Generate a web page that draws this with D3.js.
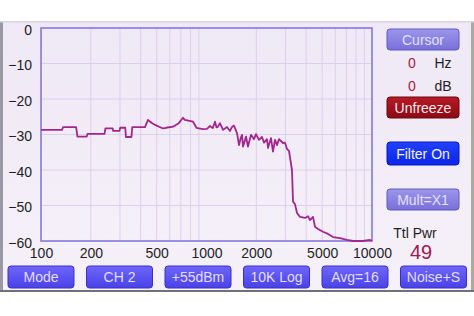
<!DOCTYPE html>
<html>
<head>
<meta charset="utf-8">
<script src="https://cdn.jsdelivr.net/npm/d3@7"></script>
<style>
  body { margin: 0; background: #fff; }
  svg { display: block; font-family: "Liberation Sans", Arial, sans-serif; }
</style>
</head>
<body>
<div id="chart"></div>
<script>
// spectrum trace (Hz, dB)
var freqs = [100, 134, 136, 163, 166, 189, 191, 242, 245, 271, 273, 298, 301, 323, 326, 352, 356, 425,
  443, 465, 489, 546, 570, 628, 680, 721, 740, 829, 870, 950, 1007, 1050, 1090, 1126, 1150, 1174,
  1206, 1258, 1330, 1387, 1430, 1466, 1529, 1572, 1610, 1639, 1662, 1733, 1781, 1857, 1936, 1991,
  2076, 2164, 2226, 2320, 2353, 2453, 2522, 2593, 2667, 2742, 2900, 2981, 3065, 3151, 3285, 3332,
  3425, 3523, 3673, 3937, 4105, 4221, 4401, 4525, 4718, 5057, 5423, 5813, 6409, 7063, 7678, 8823,
  9725, 10000];
var levels = [-28.7, -28.7, -27.9, -27.9, -30.6, -30.6, -29.8, -29.8, -28.3, -28.3, -29.0, -29.0,
  -28.1, -28.1, -30.7, -30.7, -27.9, -27.9, -25.9, -26.7, -27.3, -28.3, -28.1, -27.8, -26.8, -25.3,
  -25.9, -26.4, -28.1, -28.5, -28.4, -27.6, -28.2, -26.4, -28.0, -27.8, -26.8, -28.7, -27.9, -29.0,
  -27.8, -27.5, -29.6, -33.0, -31.0, -30.1, -33.4, -30.6, -33.4, -30.1, -31.3, -29.9, -31.5, -30.7,
  -32.3, -31.3, -33.8, -31.0, -34.8, -31.5, -33.0, -31.3, -32.4, -32.3, -34.1, -34.6, -40.0, -48.9,
  -49.6, -52.1, -53.2, -53.5, -53.0, -54.1, -53.2, -56.0, -56.6, -57.4, -58.0, -58.9, -59.2, -59.7,
  -60, -60, -59.7, -60];

var yTicks = [0, -10, -20, -30, -40, -50, -60];
var xTicks = [100, 200, 500, 1000, 2000, 5000, 10000];
var bottomButtons = ['Mode', 'CH 2', '+55dBm', '10K Log', 'Avg=16', 'Noise+S'];
var sideButtons = ['Cursor', 'Unfreeze', 'Filter On', 'Mult=X1'];
var cursorValues = ['0', '0'];
var cursorUnits = ['Hz', 'dB'];
var totalPower = '49';

var W = 474, H = 316;
var svg = d3.select('#chart').append('svg')
    .attr('width', W)
    .attr('height', H);

var defs = svg.append('defs');
function grad(id, c1, c2) {
    var g = defs.append('linearGradient').attr('id', id)
        .attr('x1', 0).attr('y1', 0).attr('x2', 0).attr('y2', 1);
    g.append('stop').attr('offset', '0%').attr('stop-color', c1);
    g.append('stop').attr('offset', '100%').attr('stop-color', c2);
}
grad('btnBlue', '#6e66fa', '#4a42e6');
grad('btnPale', '#9c96ec', '#7870d8');
grad('btnRed', '#b81a26', '#8a0a14');
grad('btnFilter', '#2240ff', '#0a26e8');
grad('screen', '#efe8f6', '#f6f1f8');

// screen of the device
svg.append('rect').attr('x', 0).attr('y', 22).attr('width', W).attr('height', 270)
    .attr('fill', 'url(#screen)');
svg.append('rect').attr('x', 0).attr('y', 22).attr('width', 3).attr('height', 270).attr('fill', '#9a98a4');
svg.append('rect').attr('x', 471).attr('y', 22).attr('width', 3).attr('height', 270).attr('fill', '#a8aca0');
svg.append('rect').attr('x', 0).attr('y', 290).attr('width', W).attr('height', 2).attr('fill', '#707078');
svg.append('rect').attr('x', 0).attr('y', 21).attr('width', W).attr('height', 1.5).attr('fill', '#d8d4e0');

var pLeft = 41, pRight = 372, pTop = 28, pBottom = 241;

var x = d3.scaleLog().domain([100, 10000]).range([pLeft, pRight]);
var y = d3.scaleLinear().domain([-60, 0]).range([pBottom, pTop]);

// grid
var gridX = [];
[100, 1000].forEach(function (dec) {
    for (var k = 2; k <= 9; k++) gridX.push(dec * k);
});
svg.append('g').selectAll('line').data(gridX).enter().append('line')
    .attr('x1', function (d) { return x(d); }).attr('x2', function (d) { return x(d); })
    .attr('y1', pTop).attr('y2', pBottom)
    .attr('stroke', '#dccfee').attr('stroke-width', 1);
svg.append('g').selectAll('line').data(yTicks.slice(1, -1)).enter().append('line')
    .attr('x1', pLeft).attr('x2', pRight)
    .attr('y1', function (d) { return y(d); }).attr('y2', function (d) { return y(d); })
    .attr('stroke', '#dccfee').attr('stroke-width', 1);

svg.append('rect').attr('x', pLeft).attr('y', pTop)
    .attr('width', pRight - pLeft).attr('height', pBottom - pTop)
    .attr('fill', 'none').attr('stroke', '#7d70e0').attr('stroke-width', 1.5);

// axes labels
var yAxis = d3.axisLeft(y).tickValues(yTicks).tickSize(0).tickPadding(9);
var ga = svg.append('g').attr('transform', 'translate(' + pLeft + ',2)').call(yAxis);
ga.select('.domain').remove();
ga.selectAll('text').attr('font-size', 14).attr('fill', '#1e1e28')
    .attr('font-family', '"Liberation Sans", Arial, sans-serif');

var xAxis = d3.axisBottom(x).tickValues(xTicks).tickFormat(d3.format('d')).tickSize(0).tickPadding(7);
var gx = svg.append('g').attr('transform', 'translate(0,' + pBottom + ')').call(xAxis);
gx.select('.domain').remove();
gx.selectAll('text').attr('font-size', 14).attr('fill', '#1e1e28')
    .attr('font-family', '"Liberation Sans", Arial, sans-serif');

// trace
var line = d3.line()
    .x(function (d) { return x(d[0]); })
    .y(function (d) { return y(d[1]); });
svg.append('path')
    .datum(d3.zip(freqs, levels))
    .attr('d', line)
    .attr('fill', 'none')
    .attr('stroke', '#a2268e')
    .attr('stroke-width', 1.8)
    .attr('stroke-linejoin', 'round');

// buttons
function button(bx, by, bw, bh, label, fill, stroke, color) {
    var g = svg.append('g');
    g.append('rect').attr('x', bx).attr('y', by).attr('width', bw).attr('height', bh)
        .attr('rx', 3).attr('fill', fill).attr('stroke', stroke).attr('stroke-width', 1);
    g.append('text').attr('x', bx + bw / 2).attr('y', by + bh / 2 + 5)
        .attr('text-anchor', 'middle').attr('font-size', 14).attr('fill', color)
        .text(label);
}

bottomButtons.forEach(function (b, i) {
    button(8 + i * 78.5, 266, 66, 22, b, 'url(#btnBlue)', '#3a30c8', '#e2deff');
});

var sideY = [29, 97, 142, 189];
var sideStyle = {
    'Cursor': ['url(#btnPale)', '#6058c0', '#e4e0f6'],
    'Unfreeze': ['url(#btnRed)', '#6a0810', '#f6e8ea'],
    'Filter On': ['url(#btnFilter)', '#0818b8', '#f2f4ff'],
    'Mult=X1': ['url(#btnPale)', '#6058c0', '#e4e0f6']
};
sideButtons.forEach(function (b, i) {
    var s = sideStyle[b];
    button(387, sideY[i], 72, b === 'Filter On' ? 23 : 21, b, s[0], s[1], s[2]);
});

cursorValues.forEach(function (v, i) {
    svg.append('text').attr('x', 412).attr('y', 68 + i * 23).attr('text-anchor', 'middle')
        .attr('font-size', 14).attr('fill', '#a52040').text(v);
    svg.append('text').attr('x', 443).attr('y', 68 + i * 23).attr('text-anchor', 'middle')
        .attr('font-size', 14).attr('fill', '#1e1e28').text(cursorUnits[i]);
});

svg.append('text').attr('x', 415).attr('y', 238).attr('text-anchor', 'middle')
    .attr('font-size', 14).attr('fill', '#1e1e28').text('Ttl Pwr');
svg.append('text').attr('x', 421).attr('y', 259).attr('text-anchor', 'middle')
    .attr('font-size', 20).attr('fill', '#a01850').text(totalPower);
</script>
</body>
</html>
